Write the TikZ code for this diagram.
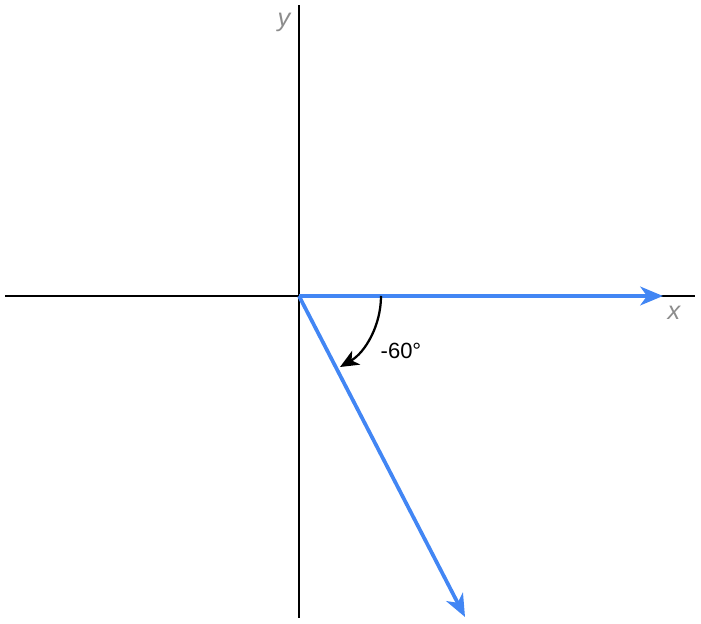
\documentclass[tikz,border=0pt]{standalone}
\usepackage{fontspec}
\setmainfont{Liberation Sans}
\usetikzlibrary{arrows.meta, positioning}
\definecolor{vecblue}{HTML}{4286F4}
\definecolor{axisgray}{HTML}{8C8C8C}
\tikzstyle{axis} = [draw=black, line width=1.7pt]
\tikzstyle{vector} = [-{Stealth[length=17pt, width=14pt, inset=5pt]}, draw=vecblue, line width=2.8pt]
\tikzstyle{turn} = [-{Stealth[length=14pt, width=12pt, inset=4pt]}, draw=black, line width=1.7pt]
\tikzstyle{axis label} = [font=\fontsize{19}{19}\selectfont\itshape, text=axisgray, inner sep=0pt]
\tikzstyle{label} = [font=\fontsize{16.5}{16.5}\selectfont, inner sep=0pt]

\begin{document}
\begin{tikzpicture}[x=0.75pt, y=0.75pt]
    \useasboundingbox (0,0) rectangle (701,624);
    \coordinate (origin) at (299,328);
    \coordinate (x left) at (5,328);
    \coordinate (x right) at (695,328);
    \coordinate (y bottom) at (299,6);
    \coordinate (y top) at (299,619);
    \coordinate (u) at (663,328);
    \coordinate (v) at (465,7);
    \coordinate (arc start) at (381,328);

    \node (x label) [axis label] at (674,311) {x};
    \node (y label) [axis label] at (284,602) {y};
    \node (angle) [label] at (401,273) {-60°};

    % Axes.
    \draw [axis] (x left) -- (x right);
    \draw [axis] (y bottom) -- (y top);

    % Arrows.
    \draw [vector] (origin) -- (u);
    \draw [vector] (origin) -- (v);
    \draw [turn] (arc start) arc [start angle=0, end angle=-60, radius=61.5pt];
\end{tikzpicture}
\end{document}
